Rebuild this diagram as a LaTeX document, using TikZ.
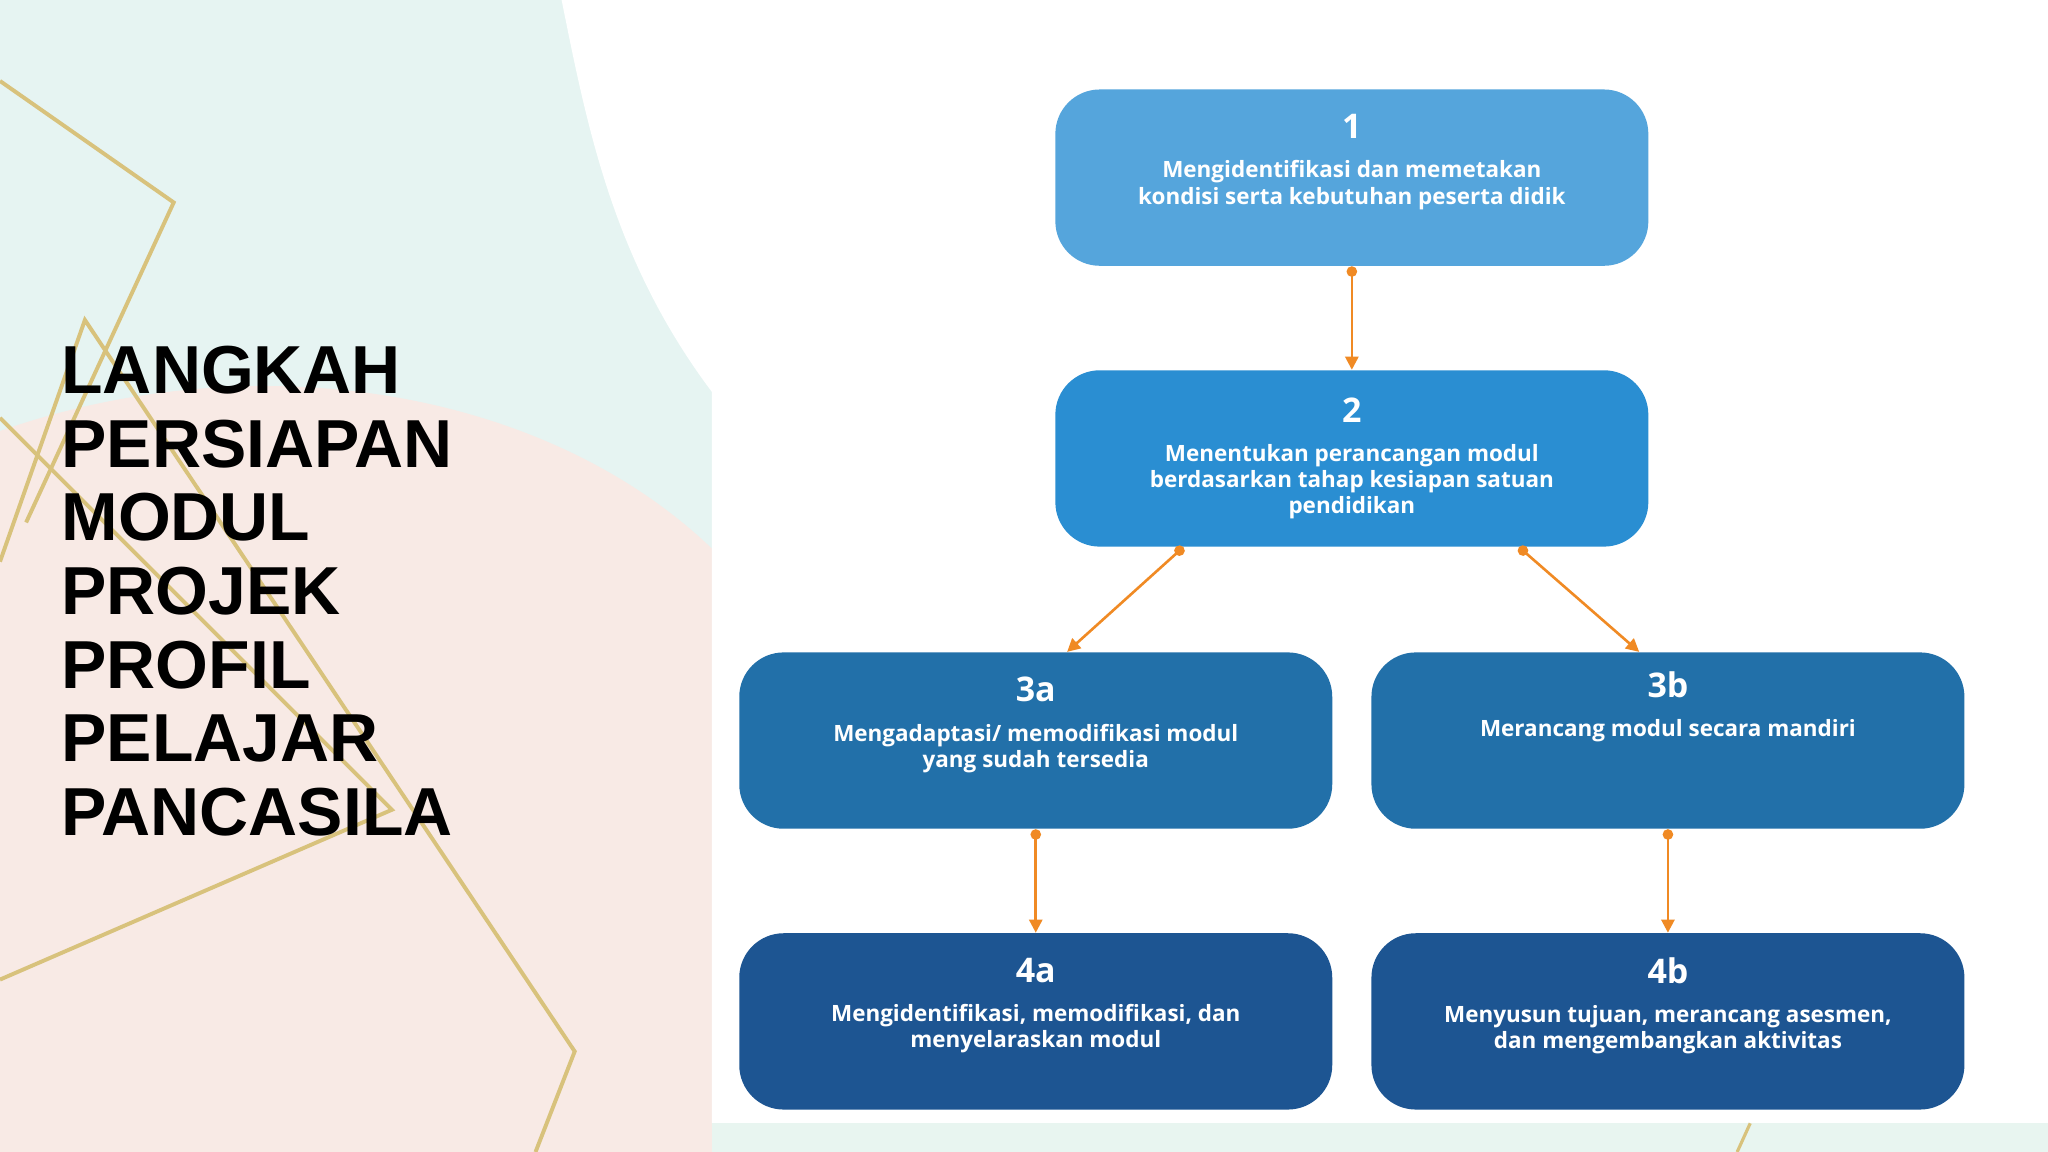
\documentclass[tikz,border=0pt]{standalone}
\usepackage{fontspec}
\setmainfont{Open Sans}
\newfontfamily\titlefont{Liberation Sans}
\usetikzlibrary{arrows.meta}
\definecolor{bA}{HTML}{55A5DC}
\definecolor{bB}{HTML}{2A8ED2}
\definecolor{bC}{HTML}{2270A9}
\definecolor{bD}{HTML}{1D5592}
\definecolor{orng}{HTML}{F08A24}
\definecolor{gold}{HTML}{D8C27C}
\tikzset{
 stepbox/.style={rounded corners=17pt, minimum width=227pt, minimum height=67.5pt, text=white, align=center, inner sep=0pt, font=\fontsize{8.6}{10}\selectfont\bfseries},
 link/.style={draw=orng, line width=1pt, {Circle[length=4pt]}-{Triangle[length=5pt,width=5pt]}}
}
\newcommand{\numtxt}[1]{{\fontsize{13}{13}\selectfont\bfseries #1}\\[5pt]}
\begin{document}
\begin{tikzpicture}[x=0.5pt,y=-0.5pt]
\useasboundingbox (0,0) rectangle (1568,882);
\fill[color={rgb,255:red,230;green,244;blue,242}] (0,0) rectangle (545,882);
\fill[color={rgb,255:red,248;green,234;blue,229}] (0,330) .. controls (200,260) and (420,300) .. (545,420) -- (545,882) -- (0,882) -- cycle;
\fill[white] (430,0) -- (1568,0) -- (1568,860) -- (545,860) -- (545,300) .. controls (470,200) and (450,100) .. (430,0) -- cycle;
\fill[color={rgb,255:red,232;green,245;blue,240}] (545,860) rectangle (1568,882);
\draw[gold, line width=1.5pt] (0,62) -- (133,155) -- (20,400);
\draw[gold, line width=1.5pt] (0,430) -- (65,245) -- (440,805) -- (410,882);
\draw[gold, line width=1.5pt] (0,320) -- (300,620) -- (0,750);
\draw[gold, line width=1.2pt] (1340,860) -- (1330,882);
\node[anchor=north west, align=left, font=\titlefont\fontsize{26}{28.2}\selectfont\bfseries] (title) at (40,258)
 {LANGKAH\\PERSIAPAN\\MODUL\\PROJEK\\PROFIL\\PELAJAR\\PANCASILA};
\node[stepbox, fill=bA] (b1) at (1035,136) {\numtxt{1}Mengidentifikasi dan memetakan\\kondisi serta kebutuhan peserta didik\\[4pt]};
\node[stepbox, fill=bB] (b2) at (1035,351) {\numtxt{2}Menentukan perancangan modul\\berdasarkan tahap kesiapan satuan\\pendidikan};
\node[stepbox, fill=bC] (b3a) at (793,567) {\numtxt{3a}Mengadaptasi/ memodifikasi modul\\yang sudah tersedia\\[4pt]};
\node[stepbox, fill=bC] (b3b) at (1277,567) {\numtxt{3b}Merancang modul secara mandiri\\[18pt]};
\node[stepbox, fill=bD] (b4a) at (793,782) {\numtxt{4a}Mengidentifikasi, memodifikasi, dan\\menyelaraskan modul\\[4pt]};
\node[stepbox, fill=bD] (b4b) at (1277,782) {\numtxt{4b}Menyusun tujuan, merancang asesmen,\\dan mengembangkan aktivitas\\[4pt]};
\draw[link] (b1.south) -- (b2.north);
\draw[link] ([xshift=-64.5pt]b2.south) -- ([xshift=12pt]b3a.north);
\draw[link] ([xshift=64pt]b2.south) -- ([xshift=-11pt]b3b.north);
\draw[link] (b3a.south) -- (b4a.north);
\draw[link] (b3b.south) -- (b4b.north);
\end{tikzpicture}
\end{document}
